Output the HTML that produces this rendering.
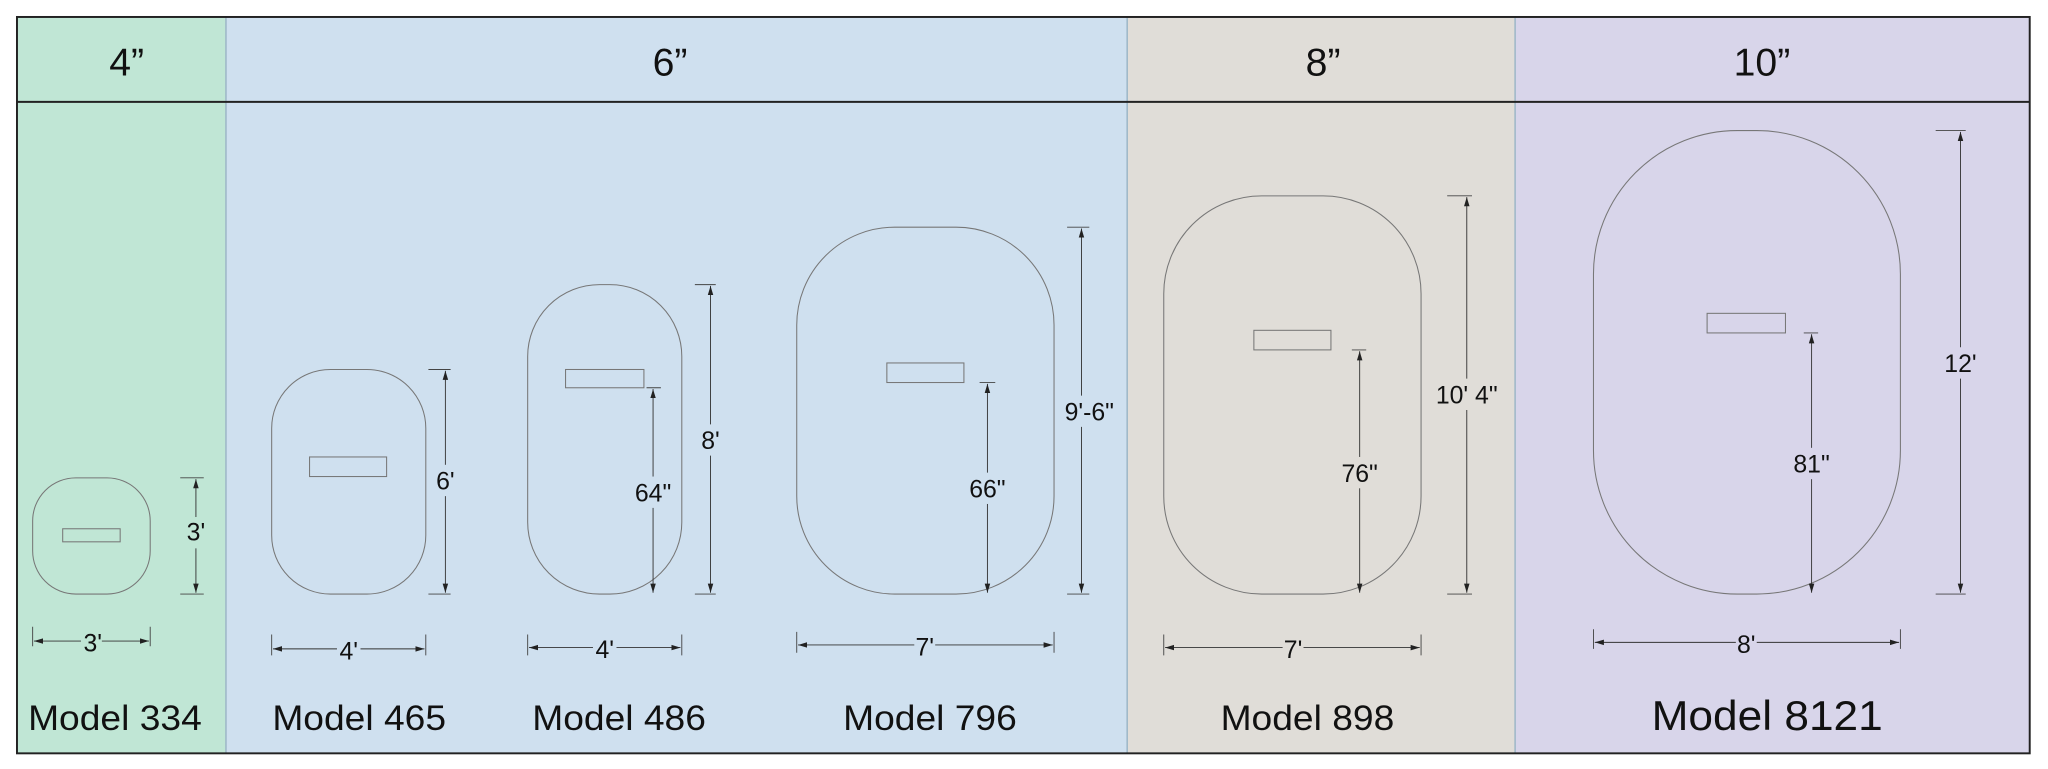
<!DOCTYPE html>
<html><head><meta charset="utf-8"><style>
html,body{margin:0;padding:0;background:#fff;}
svg{display:block;}
text{font-family:"Liberation Sans",sans-serif;fill:#111;}
</style></head><body>
<svg width="2048" height="769" viewBox="0 0 1568 589" preserveAspectRatio="none" xmlns="http://www.w3.org/2000/svg">
<defs>
<marker id="a" viewBox="0 0 10 10" refX="10" refY="5" markerWidth="7" markerHeight="7" orient="auto" markerUnits="userSpaceOnUse"><path d="M0,2 L10,5 L0,8 z" fill="#222"/></marker>
</defs>
<rect x="0" y="0" width="1568" height="589" fill="#fff"/>
<rect x="13" y="13" width="160" height="564" fill="#c0e6d5"/>
<rect x="173" y="13" width="690" height="564" fill="#cfe0ef"/>
<rect x="863" y="13" width="297" height="564" fill="#e0ddd8"/>
<rect x="1160" y="13" width="394" height="564" fill="#d8d5ea"/>
<g stroke="#9fb8c8" stroke-width="1.2"><line x1="173" y1="13" x2="173" y2="577"/><line x1="863" y1="13" x2="863" y2="577"/><line x1="1160" y1="13" x2="1160" y2="577"/></g>
<rect x="13" y="13" width="1541" height="564" fill="none" stroke="#222" stroke-width="1.5"/>
<line x1="13" y1="78" x2="1554" y2="78" stroke="#222" stroke-width="1.5"/>
<g font-size="30" text-anchor="middle">
<text x="97" y="58">4”</text><text x="513" y="58">6”</text><text x="1013" y="58">8”</text><text x="1349" y="58">10”</text>
</g>
<g font-size="27" text-anchor="middle">
<text x="88" y="559" textLength="133" lengthAdjust="spacingAndGlyphs">Model 334</text>
<text x="275" y="559" textLength="133" lengthAdjust="spacingAndGlyphs">Model 465</text>
<text x="474" y="559" textLength="133" lengthAdjust="spacingAndGlyphs">Model 486</text>
<text x="712" y="559" textLength="133" lengthAdjust="spacingAndGlyphs">Model 796</text>
<text x="1001" y="559" textLength="133" lengthAdjust="spacingAndGlyphs">Model 898</text>
<text x="1353" y="559" font-size="32" textLength="177" lengthAdjust="spacingAndGlyphs">Model 8121</text>
</g>
<g fill="none" stroke="#777" stroke-width="0.8">
<rect x="25" y="366" width="90" height="89" rx="33"/>
<rect x="48" y="405" width="44" height="10"/>
<rect x="208" y="283" width="118" height="172" rx="45"/>
<rect x="237" y="350" width="59" height="15"/>
<rect x="404" y="218" width="118" height="237" rx="55"/>
<rect x="433" y="283" width="60" height="14"/>
<rect x="610" y="174" width="197" height="281" rx="75"/>
<rect x="679" y="278" width="59" height="15"/>
<rect x="891" y="150" width="197" height="305" rx="75"/>
<rect x="960" y="253" width="59" height="15"/>
<rect x="1220" y="100" width="235" height="355" rx="110"/>
<rect x="1307" y="240" width="60" height="15"/>
</g>
<g stroke="#444" stroke-width="0.7" fill="none">
<path d="M138 366H156M138 455H156M25 480V495M115 480V495"/>
<path d="M328 283H345M328 455H345M208 486V502M326 486V502"/>
<path d="M532 218H548M532 455H548M404 486V502M522 486V502M495 297H506"/>
<path d="M817 174H834M817 455H834M610 484V500M807 484V500M750 293H762"/>
<path d="M1108 150H1127M1108 455H1127M891 486V502M1088 486V502M1035 268H1046"/>
<path d="M1482 100H1505M1482 455H1505M1220 482V497M1455 482V497M1381 255H1392"/>
</g>
<g stroke="#333" stroke-width="0.7" marker-end="url(#a)">
<line x1="150" y1="396" x2="150" y2="367"/><line x1="150" y1="420" x2="150" y2="454"/>
<line x1="62" y1="491" x2="26" y2="491"/><line x1="78" y1="491" x2="114" y2="491"/>
<line x1="341" y1="356" x2="341" y2="284"/><line x1="341" y1="380" x2="341" y2="454"/>
<line x1="258" y1="497" x2="209" y2="497"/><line x1="276" y1="497" x2="325" y2="497"/>
<line x1="544" y1="325" x2="544" y2="219"/><line x1="544" y1="349" x2="544" y2="454"/>
<line x1="500" y1="365" x2="500" y2="298"/><line x1="500" y1="389" x2="500" y2="454"/>
<line x1="454" y1="496" x2="405" y2="496"/><line x1="472" y1="496" x2="521" y2="496"/>
<line x1="828" y1="303" x2="828" y2="175"/><line x1="828" y1="327" x2="828" y2="454"/>
<line x1="756" y1="362" x2="756" y2="294"/><line x1="756" y1="386" x2="756" y2="454"/>
<line x1="700" y1="494" x2="611" y2="494"/><line x1="716" y1="494" x2="806" y2="494"/>
<line x1="1123" y1="290" x2="1123" y2="151"/><line x1="1123" y1="314" x2="1123" y2="454"/>
<line x1="1041" y1="350" x2="1041" y2="269"/><line x1="1041" y1="374" x2="1041" y2="454"/>
<line x1="982" y1="496" x2="892" y2="496"/><line x1="998" y1="496" x2="1087" y2="496"/>
<line x1="1501" y1="266" x2="1501" y2="101"/><line x1="1501" y1="290" x2="1501" y2="454"/>
<line x1="1387" y1="343" x2="1387" y2="256"/><line x1="1387" y1="367" x2="1387" y2="454"/>
<line x1="1329" y1="492" x2="1221" y2="492"/><line x1="1345" y1="492" x2="1454" y2="492"/>
</g>
<g font-size="19" text-anchor="middle">
<text x="150" y="414">3'</text><text x="71" y="499">3'</text>
<text x="341" y="375">6'</text><text x="267" y="505">4'</text>
<text x="544" y="344">8'</text><text x="500" y="384">64"</text><text x="463" y="504">4'</text>
<text x="834" y="322">9'-6"</text><text x="756" y="381">66"</text><text x="708" y="502">7'</text>
<text x="1123" y="309">10' 4"</text><text x="1041" y="369">76"</text><text x="990" y="504">7'</text>
<text x="1501" y="285">12'</text><text x="1387" y="362">81"</text><text x="1337" y="500">8'</text>
</g>
</svg>
</body></html>
